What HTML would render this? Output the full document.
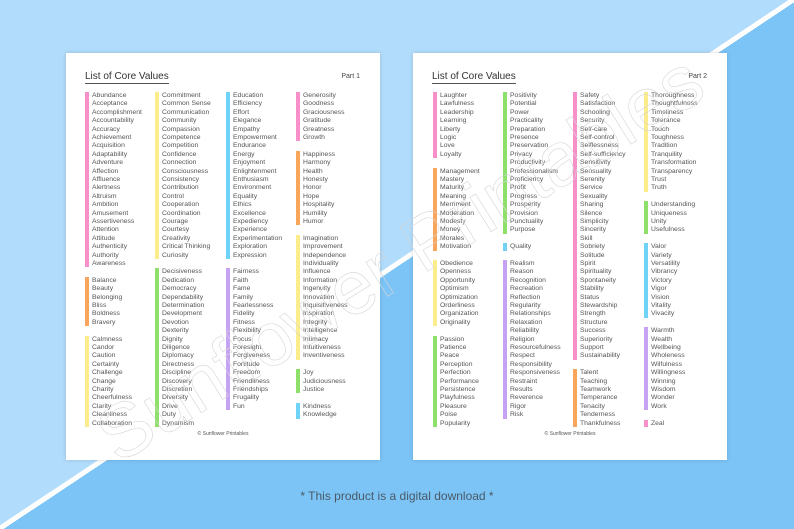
<!DOCTYPE html>
<html><head><meta charset="utf-8">
<style>
body{margin:0;width:794px;height:529px;overflow:hidden;position:relative;font-family:"Liberation Sans",sans-serif;
background:linear-gradient(to bottom right,#b2dcfb 0%,#b2dcfb calc(50% - 3px),#ffffff calc(50% - 3px),#ffffff calc(50% + 2px),#7cc4f6 calc(50% + 2px),#7cc4f6 100%);}
.page{position:absolute;top:53px;width:314px;height:407px;background:#fff;box-shadow:0 0 4px rgba(0,0,0,0.15);}
.title{position:absolute;left:19px;top:18px;font-size:10px;color:#333;border-bottom:1px solid #555;padding-bottom:1px;}
.part{position:absolute;right:20px;top:20px;font-size:7px;color:#444;}
.foot{position:absolute;left:0;right:0;top:378px;text-align:center;font-size:5px;color:#555;}
.bar{position:absolute;width:4px;}
.item{position:absolute;font-size:6.8px;color:#555;line-height:8px;white-space:nowrap;}
.wm{position:absolute;left:50px;top:215px;font-size:76px;color:transparent;-webkit-text-stroke:0.6px #d6d6d6;transform:rotate(-32deg);transform-origin:center;white-space:nowrap;width:700px;text-align:center;}
.dl{position:absolute;left:0;right:0;top:489px;text-align:center;font-size:12px;color:#4a5a66;}
</style></head><body>
<div class="page" id="p1" style="left:66px">
<div class="title">List of Core Values</div>
<div class="part">Part 1</div>
<div class="foot">© Sunflower Printables</div>
</div>
<div class="page" id="p2" style="left:413px">
<div class="title">List of Core Values</div>
<div class="part">Part 2</div>
<div class="foot">© Sunflower Printables</div>
</div>
<div class="wm">Sunflower Printables</div>
<div class="dl">* This product is a digital download *</div>
<script>
const C={pink:"#f78fc9",orange:"#f9a55c",yellow:"#fbec8c",green:"#8fe06a",blue:"#6fd3f7",purple:"#c6a3f2"};
const page1=[
[["pink","Abundance,Acceptance,Accomplishment,Accountability,Accuracy,Achievement,Acquisition,Adaptability,Adventure,Affection,Affluence,Alertness,Altruism,Ambition,Amusement,Assertiveness,Attention,Attitude,Authenticity,Authority,Awareness"],["orange","Balance,Beauty,Belonging,Bliss,Boldness,Bravery"],["yellow","Calmness,Candor,Caution,Certainty,Challenge,Change,Charity,Cheerfulness,Clarity,Cleanliness,Collaboration"]],
[["yellow","Commitment,Common Sense,Communication,Community,Compassion,Competence,Competition,Confidence,Connection,Consciousness,Consistency,Contribution,Control,Cooperation,Coordination,Courage,Courtesy,Creativity,Critical Thinking,Curiosity"],["green","Decisiveness,Dedication,Democracy,Dependability,Determination,Development,Devotion,Dexterity,Dignity,Diligence,Diplomacy,Directness,Discipline,Discovery,Discretion,Diversity,Drive,Duty,Dynamism"]],
[["blue","Education,Efficiency,Effort,Elegance,Empathy,Empowerment,Endurance,Energy,Enjoyment,Enlightenment,Enthusiasm,Environment,Equality,Ethics,Excellence,Expediency,Experience,Experimentation,Exploration,Expression"],["purple","Fairness,Faith,Fame,Family,Fearlessness,Fidelity,Fitness,Flexibility,Focus,Foresight,Forgiveness,Fortitude,Freedom,Friendliness,Friendships,Frugality,Fun"]],
[["pink","Generosity,Goodness,Graciousness,Gratitude,Greatness,Growth"],["orange","Happiness,Harmony,Health,Honesty,Honor,Hope,Hospitality,Humility,Humor"],["yellow","Imagination,Improvement,Independence,Individuality,Influence,Information,Ingenuity,Innovation,Inquisitiveness,Inspiration,Integrity,Intelligence,Intimacy,Intuitiveness,Inventiveness"],["green","Joy,Judiciousness,Justice"],["blue","Kindness,Knowledge"]]];
const page2=[
[["pink","Laughter,Lawfulness,Leadership,Learning,Liberty,Logic,Love,Loyalty"],["orange","Management,Mastery,Maturity,Meaning,Merriment,Moderation,Modesty,Money,Morales,Motivation"],["yellow","Obedience,Openness,Opportunity,Optimism,Optimization,Orderliness,Organization,Originality"],["green","Passion,Patience,Peace,Perception,Perfection,Performance,Persistence,Playfulness,Pleasure,Poise,Popularity"]],
[["green","Positivity,Potential,Power,Practicality,Preparation,Presence,Preservation,Privacy,Productivity,Professionalism,Proficiency,Profit,Progress,Prosperity,Provision,Punctuality,Purpose"],["blue","Quality"],["purple","Realism,Reason,Recognition,Recreation,Reflection,Regularity,Relationships,Relaxation,Reliability,Religion,Resourcefulness,Respect,Responsibility,Responsiveness,Restraint,Results,Reverence,Rigor,Risk"]],
[["pink","Safety,Satisfaction,Schooling,Security,Self-care,Self-control,Selflessness,Self-sufficiency,Sensitivity,Sensuality,Serenity,Service,Sexuality,Sharing,Silence,Simplicity,Sincerity,Skill,Sobriety,Solitude,Spirit,Spirituality,Spontaneity,Stability,Status,Stewardship,Strength,Structure,Success,Superiority,Support,Sustainability"],["orange","Talent,Teaching,Teamwork,Temperance,Tenacity,Tenderness,Thankfulness"]],
[["yellow","Thoroughness,Thoughtfulness,Timeliness,Tolerance,Touch,Toughness,Tradition,Tranquility,Transformation,Transparency,Trust,Truth"],["green","Understanding,Uniqueness,Unity,Usefulness"],["blue","Valor,Variety,Versatility,Vibrancy,Victory,Vigor,Vision,Vitality,Vivacity"],["purple","Warmth,Wealth,Wellbeing,Wholeness,Wilfulness,Willingness,Winning,Wisdom,Wonder,Work"],["pink","Zeal"]]];
function build(id,data,barX){
  const pg=document.getElementById(id);
  const RH=8.4, TOP=39;
  data.forEach((col,ci)=>{
    let r=0;
    col.forEach(g=>{
      const words=g[1].split(",");
      const b=document.createElement("div");
      b.className="bar";
      
      
      b.style.left=barX[ci]+"px";b.style.top=(TOP+r*RH)+"px";
      b.style.height=(words.length*RH-1)+"px";b.style.background=C[g[0]];
      pg.appendChild(b);
      words.forEach(w=>{
        const t=document.createElement("div");
        t.className="item";
        
        
        t.textContent=w;
        t.style.left=(barX[ci]+7)+"px";t.style.top=(TOP+r*RH)+"px";
        pg.appendChild(t);r++;
      });
      r++;
    });
  });
}
build("p1",page1,[19,89,160,230]);
build("p2",page2,[20,90,160,231]);
</script>
</body></html>
